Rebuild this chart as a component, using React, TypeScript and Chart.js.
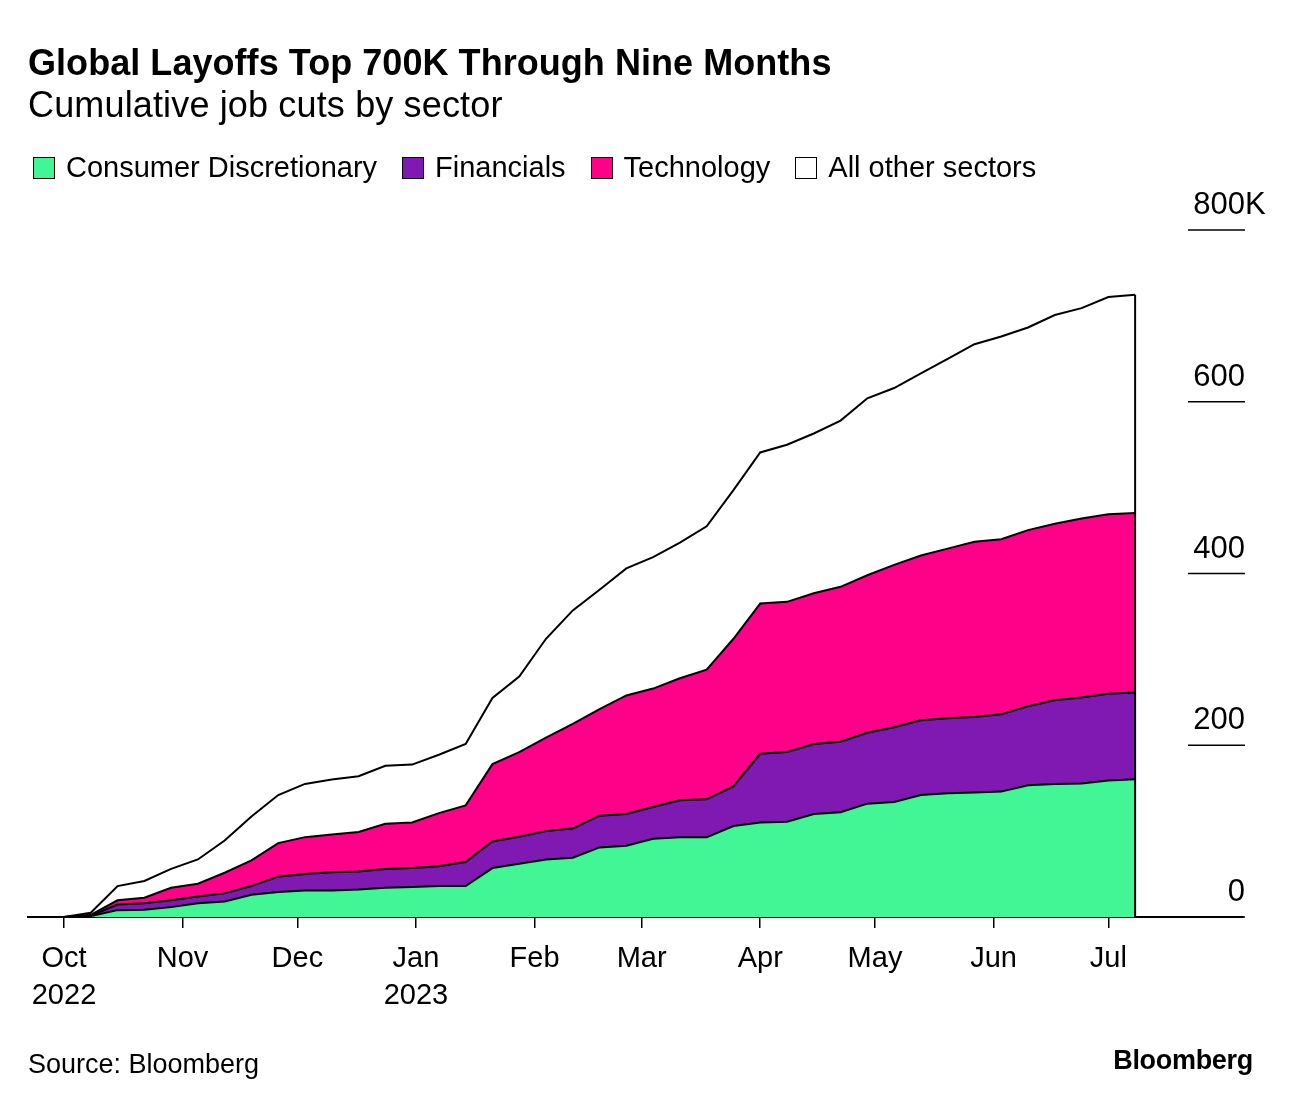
import React, { useEffect, useRef } from "react";
import { Chart, registerables } from "chart.js";

Chart.register(...registerables);

// ---------- data (thousands of job cuts, cumulative, weekly) ----------
const weekDates = [
  "2022-10-01", "2022-10-08", "2022-10-15", "2022-10-22", "2022-10-29",
  "2022-11-05", "2022-11-12", "2022-11-19", "2022-11-26",
  "2022-12-03", "2022-12-10", "2022-12-17", "2022-12-24", "2022-12-31",
  "2023-01-07", "2023-01-14", "2023-01-21", "2023-01-28",
  "2023-02-04", "2023-02-11", "2023-02-18", "2023-02-25",
  "2023-03-04", "2023-03-11", "2023-03-18", "2023-03-25",
  "2023-04-01", "2023-04-08", "2023-04-15", "2023-04-22", "2023-04-29",
  "2023-05-06", "2023-05-13", "2023-05-20", "2023-05-27",
  "2023-06-03", "2023-06-10", "2023-06-17", "2023-06-24",
  "2023-07-01", "2023-07-08",
];

const consumerDiscretionary = [
  0, 1, 8, 8.5, 11.5, 16, 18, 26, 29, 31, 31, 32, 34, 35, 36, 36, 57, 62, 67, 69,
  81, 83, 91, 93, 93, 106, 110, 111, 120, 122, 132, 134, 142, 144, 145, 146, 153.5,
  155, 155.5, 159, 160.5,
];
const financials = [
  0, 0.5, 6.5, 7.4, 7.9, 8, 9.5, 10, 18, 19, 21, 21, 22, 22, 23, 28, 31, 31.5, 33, 34,
  37, 37, 37, 43, 44, 46, 80, 81, 81.5, 82, 82.5, 87, 87, 87.5, 88, 90, 92, 97.5, 100,
  101, 101,
];
const technology = [
  0, 1, 5, 6.6, 14.6, 14.8, 24, 30, 39, 43, 44, 46, 52.5, 53, 62, 66, 90, 98.5, 109,
  122, 124, 138, 138, 142, 151, 172, 175, 175, 175.5, 180.5, 183.5, 189, 192, 197.5,
  204, 204, 205, 205.5, 208.5, 209, 209,
];
const allOtherSectors = [
  0, 2.5, 16.5, 19.5, 22, 28.2, 37.5, 51, 56, 62, 64, 65, 67.5, 67.5, 68, 71.5, 77,
  88, 115, 132, 139, 148, 153, 158, 167, 173, 176, 183, 186, 193.5, 206, 206, 212,
  221, 230, 236, 236, 243, 245, 253, 254,
];

const seriesNames = ["Consumer Discretionary", "Financials", "Technology", "All other sectors"];
const seriesColors = ["#43F695", "#8019B2", "#FF0088", "#FFFFFF"];

const monthTickDates = [
  "2022-10-01", "2022-11-01", "2022-12-01", "2023-01-01", "2023-02-01",
  "2023-03-01", "2023-04-01", "2023-05-01", "2023-06-01", "2023-07-01",
];
const monthTickLabels = [
  ["Oct", "2022"], ["Nov"], ["Dec"], ["Jan", "2023"], ["Feb"],
  ["Mar"], ["Apr"], ["May"], ["Jun"], ["Jul"],
];
const yTickValues = [0, 200, 400, 600, 800];
const yUnit = "K";

// ---------- helpers ----------
const FONT = '"Liberation Sans", Arial, Helvetica, sans-serif';
const ORIGIN = Date.UTC(2022, 9, 1);
const toDay = (s: string) => {
  const [y, m, d] = s.split("-").map(Number);
  return (Date.UTC(y, m - 1, d) - ORIGIN) / 86400000;
};

const seriesValues = [consumerDiscretionary, financials, technology, allOtherSectors];

const overlayPlugin = {
  id: "overlay",
  afterDatasetsDraw(chart: any) {
    const { ctx, chartArea, scales } = chart;
    const x = scales.x;
    const y = scales.y;
    const last = weekDates.length - 1;
    const lastX = x.getPixelForValue(toDay(weekDates[last]));
    const total = seriesValues.reduce((a, s) => a + s[last], 0);
    ctx.save();
    ctx.strokeStyle = "#000";
    ctx.lineWidth = 2;
    ctx.beginPath();
    ctx.moveTo(lastX, y.getPixelForValue(total));
    ctx.lineTo(lastX, y.getPixelForValue(0));
    ctx.stroke();

    const right = chartArea.right + 2;
    ctx.font = `31px ${FONT}`;
    ctx.fillStyle = "#000";
    ctx.textBaseline = "alphabetic";
    ctx.lineWidth = 1.6;
    yTickValues.forEach((v, i) => {
      const py = y.getPixelForValue(v);
      ctx.beginPath();
      ctx.moveTo(right - 57, py);
      ctx.lineTo(right, py);
      ctx.stroke();
      ctx.textAlign = "right";
      ctx.fillText(String(v), right, py - 16);
      if (i === yTickValues.length - 1) {
        ctx.textAlign = "left";
        ctx.fillText(yUnit, right, py - 16);
      }
    });
    ctx.restore();
  },
};

function ChartCanvas() {
  const ref = useRef<HTMLCanvasElement | null>(null);
  useEffect(() => {
    if (!ref.current) return;
    const chart = new Chart(ref.current, {
      type: "line",
      data: {
        datasets: seriesValues.map((vals, i) => ({
          label: seriesNames[i],
          data: weekDates.map((d, j) => ({ x: toDay(d), y: vals[j] })),
          backgroundColor: seriesColors[i],
          borderColor: "#000",
          borderWidth: 2,
          fill: i === 0 ? "origin" : "-1",
          pointRadius: 0,
          tension: 0,
        })),
      },
      options: {
        animation: false,
        responsive: true,
        maintainAspectRatio: false,
        layout: { padding: { left: 28, right: 50, top: 230, bottom: 89 } },
        plugins: {
          legend: { display: false },
          tooltip: { enabled: false },
          title: { display: false },
        },
        scales: {
          x: {
            type: "linear",
            min: -9.41,
            max: 308.2,
            afterBuildTicks: (s: any) => {
              s.ticks = monthTickDates.map((d) => ({ value: toDay(d) }));
            },
            afterFit: (s: any) => {
              s.height = 100;
            },
            grid: {
              drawOnChartArea: false,
              drawTicks: true,
              tickLength: 11,
              color: "#000",
              lineWidth: 1.5,
            },
            border: { display: true, color: "#000", width: 2 },
            ticks: {
              autoSkip: false,
              maxRotation: 0,
              minRotation: 0,
              padding: 12.5,
              color: "#000",
              font: { family: FONT, size: 29, lineHeight: 37 / 29 },
              callback: (_v: any, idx: number) => monthTickLabels[idx] ?? "",
            },
          },
          y: {
            type: "linear",
            stacked: true,
            min: 0,
            max: 800,
            display: false,
            ticks: { stepSize: 200 },
          },
        },
      },
      plugins: [overlayPlugin],
    } as any);
    return () => chart.destroy();
  }, []);
  return (
    <div style={{ position: "absolute", left: 0, top: 0, width: 1293, height: 1106 }}>
      <canvas ref={ref} />
    </div>
  );
}

export default function App() {
  const text: React.CSSProperties = {
    position: "absolute",
    fontFamily: FONT,
    color: "#000",
    lineHeight: 1,
    whiteSpace: "nowrap",
    margin: 0,
  };
  return (
    <div
      style={{
        position: "fixed",
        left: 0,
        top: 0,
        width: 1293,
        height: 1106,
        background: "#fff",
        overflow: "hidden",
      }}
    >
      <ChartCanvas />
      <div style={{ ...text, left: 28, top: 44.5, fontSize: 36, fontWeight: 700, letterSpacing: 0.05 }}>
        Global Layoffs Top 700K Through Nine Months
      </div>
      <div style={{ ...text, left: 28, top: 86.5, fontSize: 36, letterSpacing: 0.15 }}>
        Cumulative job cuts by sector
      </div>
      <div
        style={{
          ...text,
          left: 33,
          top: 153,
          fontSize: 29,
          display: "flex",
          alignItems: "center",
        }}
      >
        {seriesNames.map((n, i) => (
          <div key={n} style={{ display: "flex", alignItems: "center", marginRight: 25 }}>
            <span
              style={{
                display: "inline-block",
                width: 20,
                height: 20,
                background: seriesColors[i],
                border: "1.5px solid #000",
                marginRight: 11,
              }}
            />
            <span>{n}</span>
          </div>
        ))}
      </div>
      <div style={{ ...text, left: 28, top: 1051, fontSize: 27 }}>Source: Bloomberg</div>
      <div style={{ ...text, right: 40, top: 1047, fontSize: 27, fontWeight: 700, letterSpacing: -0.3 }}>
        Bloomberg
      </div>
    </div>
  );
}
